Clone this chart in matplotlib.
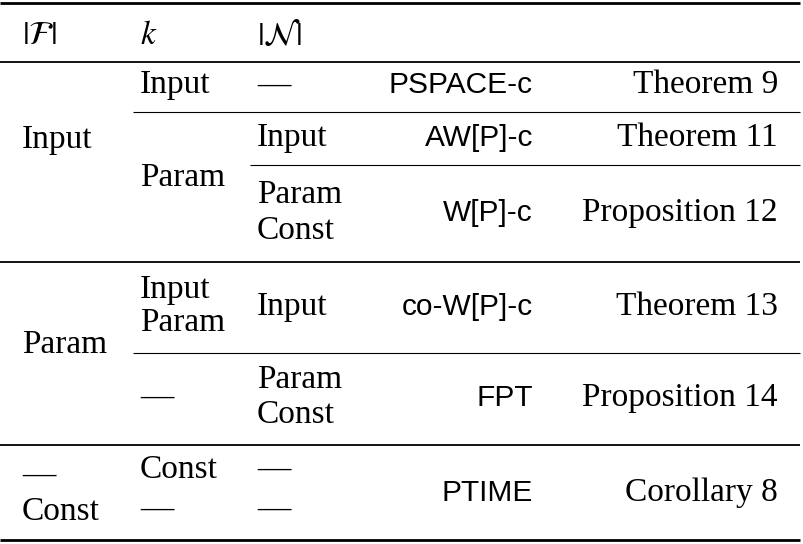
import matplotlib.pyplot as plt

plt.rcParams['mathtext.fontset'] = 'stix'
SERIF = 'Liberation Serif'
SANS = 'Liberation Sans'

# table contents
headers = [r'$|\mathcal{F}|$', r'$k$', r'$|\mathcal{N}|$']
col_f = [('Input', 140), ('Param', 345), ('—', 475), ('Const', 512)]
col_k = [('Input', 85), ('Param', 178), ('Input', 290), ('Param', 323),
         ('—', 398), ('Const', 470), ('—', 510)]
col_n = [('—', 85), ('Input', 138), ('Param', 195), ('Const', 231),
         ('Input', 307), ('Param', 380), ('Const', 415), ('—', 470), ('—', 510)]
classes = [('PSPACE-c', 85), ('AW[P]-c', 138), ('W[P]-c', 213),
           ('co-W[P]-c', 307), ('FPT', 398), ('PTIME', 493)]
refs = [('Theorem 9', 85), ('Theorem 11', 138), ('Proposition 12', 213),
        ('Theorem 13', 307), ('Proposition 14', 398), ('Corollary 8', 493)]
# horizontal rules: (y, x_start, width)
rules = [(3, 0, 2.0), (62, 0, 1.3), (112, 133, 0.8), (165, 250, 0.8),
         (262, 0, 1.3), (353, 133, 0.8), (445, 0, 1.3), (540, 0, 2.0)]

fig = plt.figure(figsize=(8.04, 5.44), dpi=100)
ax = fig.add_axes([0, 0, 1, 1])
ax.set_xlim(0, 804)
ax.set_ylim(544, 0)
ax.axis('off')

fs = 24
for y, x0, lw in rules:
    ax.plot([x0, 800], [y, y], color='black', lw=lw, solid_capstyle='butt')

for txt, x in zip(headers, [22, 140, 257]):
    ax.text(x, 35, txt, fontsize=fs, va='center', ha='left')
for txt, y in col_f:
    ax.text(22, y, txt, fontsize=fs, family=SERIF, va='center')
for txt, y in col_k:
    ax.text(140, y, txt, fontsize=fs, family=SERIF, va='center')
for txt, y in col_n:
    ax.text(257, y, txt, fontsize=fs, family=SERIF, va='center')
for txt, y in classes:
    ax.text(533, y, txt, fontsize=21.5, family=SANS, va='center', ha='right')
for txt, y in refs:
    ax.text(778, y, txt, fontsize=fs, family=SERIF, va='center', ha='right')

fig.savefig('out.png', dpi=100)
